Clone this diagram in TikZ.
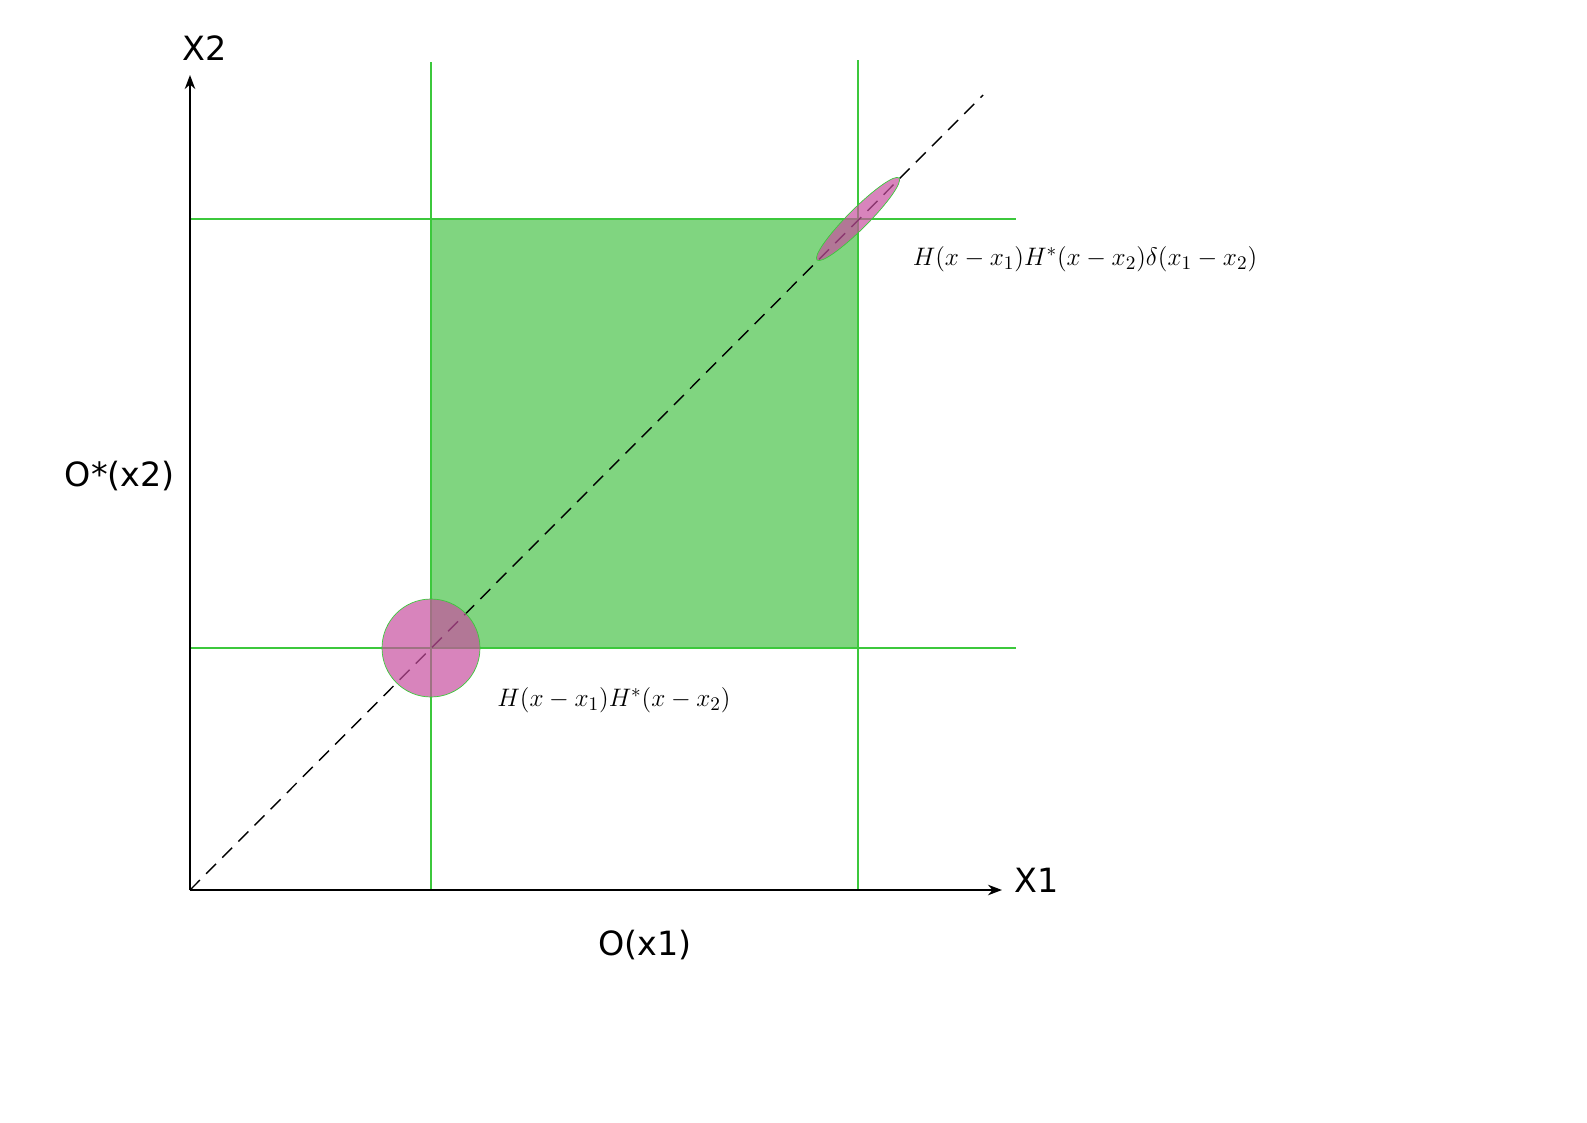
\documentclass[tikz,border=0pt]{standalone}
\usepackage{fontspec}
\newfontfamily\lblfont{DejaVu Sans}
\usetikzlibrary{arrows.meta}
\definecolor{gline}{RGB}{60,200,60}
\definecolor{gfill}{RGB}{60,190,60}
\definecolor{mag}{RGB}{200,80,160}
\tikzset{
  axis/.style={-{Stealth[length=8pt,width=6pt]},line width=1pt},
  gl/.style={gline,line width=0.7pt},
  lbl/.style={font=\lblfont\fontsize{19}{22}\selectfont},
  mlbl/.style={font=\fontsize{15}{18}\selectfont}
}
\begin{document}
\begin{tikzpicture}[x=0.02cm,y=-0.02cm]
\useasboundingbox (0,0) rectangle (1587,1123);
\fill[gfill,opacity=0.65] (431,219) rectangle (858,648);
\draw[gl] (431,62) -- (431,890);
\draw[gl] (858,60) -- (858,890);
\draw[gl] (190,219) -- (1016,219);
\draw[gl] (190,648) -- (1016,648);
\coordinate (o) at (190,890);
\coordinate (xe) at (1002,890);
\coordinate (ye) at (190,75);
\coordinate (de) at (983,95);
\draw[axis] (o) -- (xe);
\draw[axis] (o) -- (ye);
\draw[dashed,line width=0.8pt,dash pattern=on 8pt off 5pt] (o) -- (de);
\draw[gline,fill=mag,fill opacity=0.7] (431,648) circle (49);
\draw[gline,fill=mag,fill opacity=0.7,rotate around={45:(858,219)}] (858,219) ellipse (58 and 10);
\node[lbl] (x2) at (205,48) {X2};
\node[lbl] (x1) at (1037,880) {X1};
\node[lbl] (ox1) at (645,945) {O(x1)};
\node[lbl] (ox2) at (120,476) {O*(x2)};
\node[mlbl] (h1) at (614,700) {$H(x-x_1)H^*(x-x_2)$};
\node[mlbl] (h2) at (1085,259) {$H(x-x_1)H^*(x-x_2)\delta(x_1-x_2)$};
\end{tikzpicture}
\end{document}
